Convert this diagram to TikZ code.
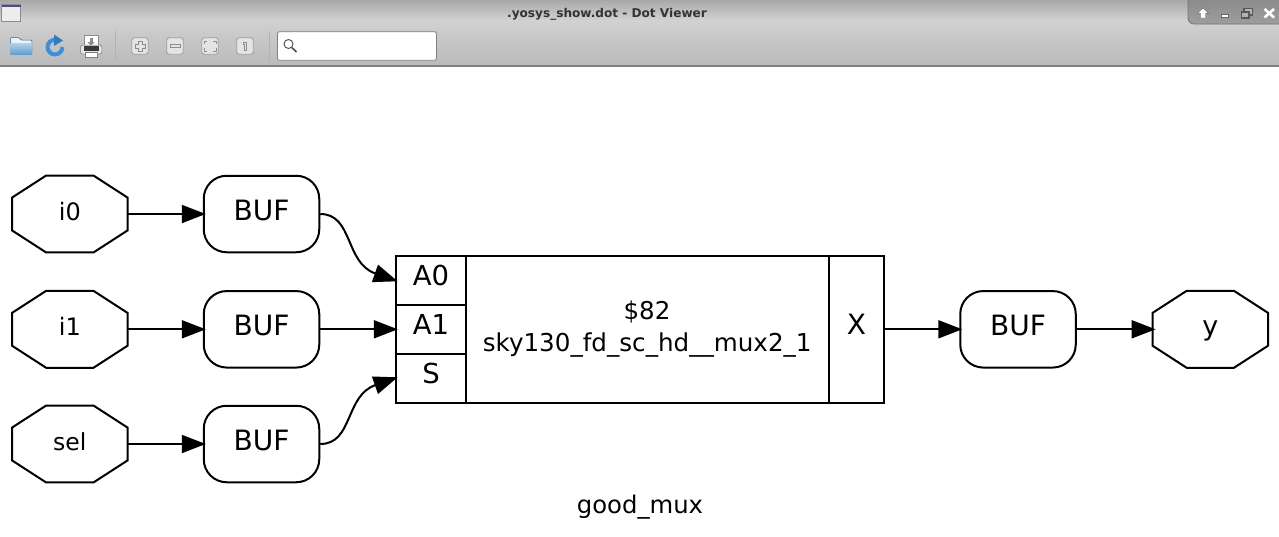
\documentclass[tikz,border=0pt]{standalone}
\usepackage{fontspec}
\setmainfont{DejaVu Sans}
\usetikzlibrary{arrows.meta,calc}
\newcommand{\fs}[1]{\fontsize{#1}{#1}\selectfont}
\newcommand{\lowered}[2]{\raisebox{-#1pt}{#2}}
\definecolor{foldtop}{HTML}{B4D2EA}
\definecolor{foldbot}{HTML}{5E9ED0}
\definecolor{foldd}{HTML}{3F7DB5}
\definecolor{relo}{HTML}{3C8FD8}
\definecolor{btn}{HTML}{E4E4E4}
\definecolor{btnd}{HTML}{A0A0A0}
\tikzset{
  x=1pt,y=-1pt,
  graphline/.style={draw=black,line width=2pt},
  conn/.style={graphline,-{Triangle[length=24pt,width=18pt]},shorten >=-3pt},
  basetext/.style={text height=0pt,text depth=0pt,inner sep=0pt},
  octo/.style={basetext,minimum width=115pt,minimum height=76.5pt},
  bufbox/.style={graphline,basetext,rounded corners=23pt,minimum width=115.5pt,minimum height=76.5pt,font=\fs{28}},
  port/.style={graphline,basetext,minimum width=70.5pt,minimum height=49pt,font=\fs{27.5}},
  zoombtn/.style={draw=btnd,fill=btn,rounded corners=2.5pt,line width=.9pt,minimum width=16.5pt,minimum height=16.5pt,inner sep=0pt},
  glyph/.style={draw=black!45,line width=.9pt},
  sep/.style={draw=black!30,line width=.8pt},
}
\begin{document}
\begin{tikzpicture}
\useasboundingbox (0,0) rectangle (1279,536);
\fill[white] (0,0) rectangle (1279,536);
% window chrome
\shade[top color=black!34,bottom color=black!18] (0,0) rectangle (1279,20);
\shade[top color=black!18,bottom color=black!27] (0,20) rectangle (1279,65);
\fill[black!50] (0,65) rectangle (1279,66.5);
\node[font=\bfseries\fs{12.1},text=black!80] (title) at (607,14) {.yosys\_show.dot - Dot Viewer};
% window icon
\path[draw=black!45,fill=white!93!black,line width=.7pt] (1.5,4.5) rectangle (20.5,21.5);
\fill[blue!35!black!70] (1.5,4.5) rectangle (20.5,6.8);
% window buttons tab
\shade[top color=black!48,bottom color=black!38,rounded corners=6pt] (1188,-8) -- (1188,24) -- (1290,24) -- (1290,-8) -- cycle;
\draw[black!55,line width=.8pt,rounded corners=6pt] (1188,-8) -- (1188,24) -- (1290,24);
\fill[white,draw=black!60,line width=.4pt] (1203,8) -- (1208.5,13.3) -- (1205.5,13.3) -- (1205.5,18) -- (1200.5,18) -- (1200.5,13.3) -- (1197.5,13.3) -- cycle;
\fill[white,draw=black!60,line width=.4pt] (1221.5,14.5) rectangle (1228.5,17.5);
\draw[black!65,line width=1.2pt,fill=black!30] (1244,8.5) rectangle (1252.5,15);
\draw[black!65,line width=1.2pt,fill=black!30] (1241.5,12) rectangle (1249,18);
\draw[white,line width=2.6pt] (1264.5,9) -- (1274,17.5) (1274,9) -- (1264.5,17.5);
% toolbar: folder
\path[fill=white!70!foldtop,draw=foldd!80!black,line width=.5pt,rounded corners=1pt] (10.5,37.5) -- (19,37.5) -- (21,40) -- (31.8,40) -- (31.8,54.7) -- (10.5,54.7) -- cycle;
\shade[top color=foldtop,bottom color=foldbot] (10.7,43) rectangle (31.6,54.5);
% toolbar: reload
\draw[relo,line width=4pt] (56,39.5) .. controls (51,39.5) and (47.5,43) .. (47.5,47) .. controls (47.5,51) and (51,54.5) .. (55,54.5) .. controls (59,54.5) and (62.5,51) .. (62.5,47);
\fill[relo!85!black] (54,34.5) -- (63,40.5) -- (54,46) -- cycle;
% toolbar: printer
\fill[white,draw=black!45,line width=.5pt] (84,35.5) rectangle (98,46);
\fill[black!45] (87.5,42) -- (94.5,42) -- (91,45.5) -- cycle;
\fill[black!45] (89.5,38) rectangle (92.5,42);
\fill[black!10,draw=black!55,line width=.5pt,rounded corners=1.5pt] (80.5,45) rectangle (101.8,54);
\fill[black!78] (84,45.5) rectangle (98.5,50.5);
\fill[white,draw=black!50,line width=.5pt] (85,52) rectangle (97,56.8);
% separators
\draw[sep] (115.5,31) -- (115.5,61);
\draw[sep] (269.5,31) -- (269.5,61);
% zoom buttons
\node[zoombtn] (zin) at (140,46) {};
\draw[glyph] (138,41) -| (142,44) -| (145,48) -| (142,51) -| (138,48) -| (135,44) -| cycle;
\node[zoombtn] (zout) at (175,46) {};
\draw[glyph] (170,44.5) rectangle (180,47.5);
\node[zoombtn] (zfit) at (210,46) {};
\draw[glyph] (207,41) -- (204,41) -- (204,44) (213,41) -- (216,41) -- (216,44) (204,48) -- (204,51) -- (207,51) (216,48) -- (216,51) -- (213,51);
\node[zoombtn] (zone) at (245,46) {};
\draw[glyph] (243,42) -- (246.5,42) -- (246.5,50) -- (244,50) -- (244,44.5) -- (243,44.5) -- cycle;
% search box
\node[draw=black!50,fill=white,rounded corners=2pt,line width=.8pt,minimum width=159pt,minimum height=28.5pt,inner sep=0pt] (search) at (357,46) {};
\draw[black!65,line width=1pt] (288.5,44) circle[radius=4.5];
\draw[black!70,line width=1.6pt] (291.8,47.5) -- (296.5,52);
%
% octagons
\node[octo,font=\fs{24}] (i0) at (69.8,214) {\lowered{6}{i0}};
\node[octo,font=\fs{24}] (i1) at (69.8,329.3) {\lowered{6}{i1}};
\node[octo,font=\fs{23.5}] (sel) at (69.8,444) {\lowered{6}{sel}};
\node[octo,font=\fs{27}] (y) at (1210.3,329.3) {\lowered{6}{y}};
\foreach \n in {i0,i1,sel,y}{
  \draw[graphline] ($(\n.north west)+(34,0)$) -- ($(\n.north east)+(-34,0)$) -- ($(\n.north east)+(0,22)$) -- ($(\n.south east)+(0,-22)$) -- ($(\n.south east)+(-34,0)$) -- ($(\n.south west)+(34,0)$) -- ($(\n.south west)+(0,-22)$) -- ($(\n.north west)+(0,22)$) -- cycle;
}
% buffers
\node[bufbox] (b0) at (261.5,214) {\lowered{6}{BUF}};
\node[bufbox] (b1) at (261.5,329.3) {\lowered{6}{BUF}};
\node[bufbox] (b2) at (261.5,444) {\lowered{6}{BUF}};
\node[bufbox] (b3) at (1018,329.3) {\lowered{6}{BUF}};
% mux cell
\node[port] (a0) at (431,280.3) {\lowered{5.5}{A0}};
\node[port] (a1) at (431,329.3) {\lowered{5.5}{A1}};
\node[port] (s) at (431,378.3) {\lowered{5}{S}};
\node[graphline,minimum width=363pt,minimum height=147pt,inner sep=0pt] (cell) at (647.5,329.3) {};
\node[font=\fs{24.5},anchor=base,inner sep=0pt] (cellid) at ($(cell.center)+(-0.5,-10)$) {\$82};
\node[font=\fs{24.6},anchor=base,inner sep=0pt] (celltype) at ($(cell.center)+(-0.3,21.7)$) {sky130\_fd\_sc\_hd\_\_mux2\_1};
\node[graphline,basetext,minimum width=55.5pt,minimum height=147pt,font=\fs{28}] (x) at (856.5,329.3) {\lowered{5.5}{X}};
% connectors
\draw[conn] (i0.east) -- (b0.west);
\draw[conn] (i1.east) -- (b1.west);
\draw[conn] (sel.east) -- (b2.west);
\draw[conn] (b1.east) -- (a1.west);
\draw[conn] (b0.east) .. controls +(33,0) and +(-50,-17.5) .. (a0.west);
\draw[conn] (b2.east) .. controls +(33,0) and +(-50,17.5) .. (s.west);
\draw[conn] (x.east) -- (b3.west);
\draw[conn] (b3.east) -- (y.west);
\node[font=\fs{24.3},anchor=base,inner sep=0pt] (label) at (640,513.3) {good\_mux};
\end{tikzpicture}
\end{document}
